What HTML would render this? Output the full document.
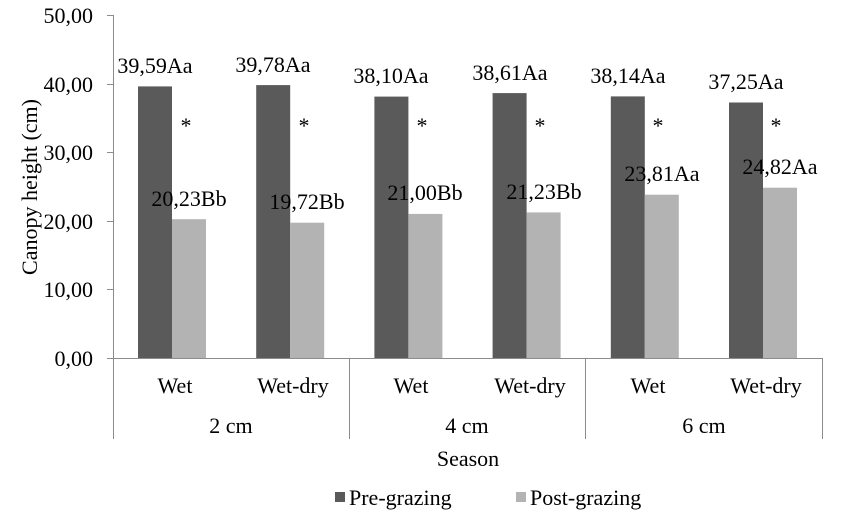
<!DOCTYPE html>
<html><head><style>body{margin:0;background:#fff}svg{display:block}text{font-family:"Liberation Serif",serif;fill:#000}</style></head><body>
<svg width="856" height="515" viewBox="0 0 856 515">
<g stroke="#8c8c8c" stroke-width="1">
<line x1="113.5" y1="15" x2="113.5" y2="439"/>
<line x1="107" y1="358.5" x2="822" y2="358.5"/>
<line x1="107" y1="15.5" x2="113" y2="15.5"/>
<line x1="107" y1="84.5" x2="113" y2="84.5"/>
<line x1="107" y1="152.5" x2="113" y2="152.5"/>
<line x1="107" y1="221.5" x2="113" y2="221.5"/>
<line x1="107" y1="289.5" x2="113" y2="289.5"/>
<line x1="349.5" y1="358" x2="349.5" y2="439"/>
<line x1="585.5" y1="358" x2="585.5" y2="439"/>
<line x1="822.5" y1="358" x2="822.5" y2="439"/>
</g>
<g font-size="22" text-anchor="end">
<text x="93" y="23">50,00</text><text x="93" y="92">40,00</text><text x="93" y="160">30,00</text>
<text x="93" y="229">20,00</text><text x="93" y="297">10,00</text><text x="93" y="366">0,00</text>
</g>
<text font-size="22" text-anchor="middle" transform="translate(37,187) rotate(-90)">Canopy height (cm)</text>
<g fill="#5a5a5a">
<rect x="138" y="86.4" width="34" height="271.6"/>
<rect x="256.2" y="85.1" width="34" height="272.9"/>
<rect x="374.4" y="96.6" width="34" height="261.4"/>
<rect x="492.6" y="93.1" width="34" height="264.9"/>
<rect x="610.8" y="96.4" width="34" height="261.6"/>
<rect x="729" y="102.5" width="34" height="255.5"/>
</g>
<g fill="#b3b3b3">
<rect x="172" y="219.2" width="34" height="138.8"/>
<rect x="290.2" y="222.7" width="34" height="135.3"/>
<rect x="408.4" y="213.9" width="34" height="144.1"/>
<rect x="526.6" y="212.4" width="34" height="145.6"/>
<rect x="644.8" y="194.7" width="34" height="163.3"/>
<rect x="763" y="187.7" width="34" height="170.3"/>
</g>
<g font-size="22" text-anchor="middle">
<text x="155" y="73">39,59Aa</text>
<text x="273" y="72">39,78Aa</text>
<text x="391" y="83">38,10Aa</text>
<text x="510" y="80">38,61Aa</text>
<text x="628" y="83">38,14Aa</text>
<text x="746" y="89">37,25Aa</text>
<text x="189" y="206">20,23Bb</text>
<text x="307" y="209">19,72Bb</text>
<text x="425" y="200">21,00Bb</text>
<text x="544" y="199">21,23Bb</text>
<text x="662" y="181">23,81Aa</text>
<text x="780" y="174">24,82Aa</text>
<text x="186" y="133">*</text>
<text x="304" y="133">*</text>
<text x="422" y="133">*</text>
<text x="540" y="133">*</text>
<text x="658" y="133">*</text>
<text x="776" y="133">*</text>
<text x="175" y="393">Wet</text><text x="293" y="393">Wet-dry</text>
<text x="411" y="393">Wet</text><text x="530" y="393">Wet-dry</text>
<text x="648" y="393">Wet</text><text x="766" y="393">Wet-dry</text>
<text x="231" y="433">2 cm</text><text x="467" y="433">4 cm</text><text x="704" y="433">6 cm</text>
<text x="468" y="466">Season</text>
</g>
<rect x="335" y="492" width="10" height="10" fill="#5a5a5a"/>
<text x="349" y="505" font-size="22">Pre-grazing</text>
<rect x="516" y="492" width="10" height="10" fill="#b3b3b3"/>
<text x="530" y="505" font-size="22">Post-grazing</text>
</svg>
</body></html>
